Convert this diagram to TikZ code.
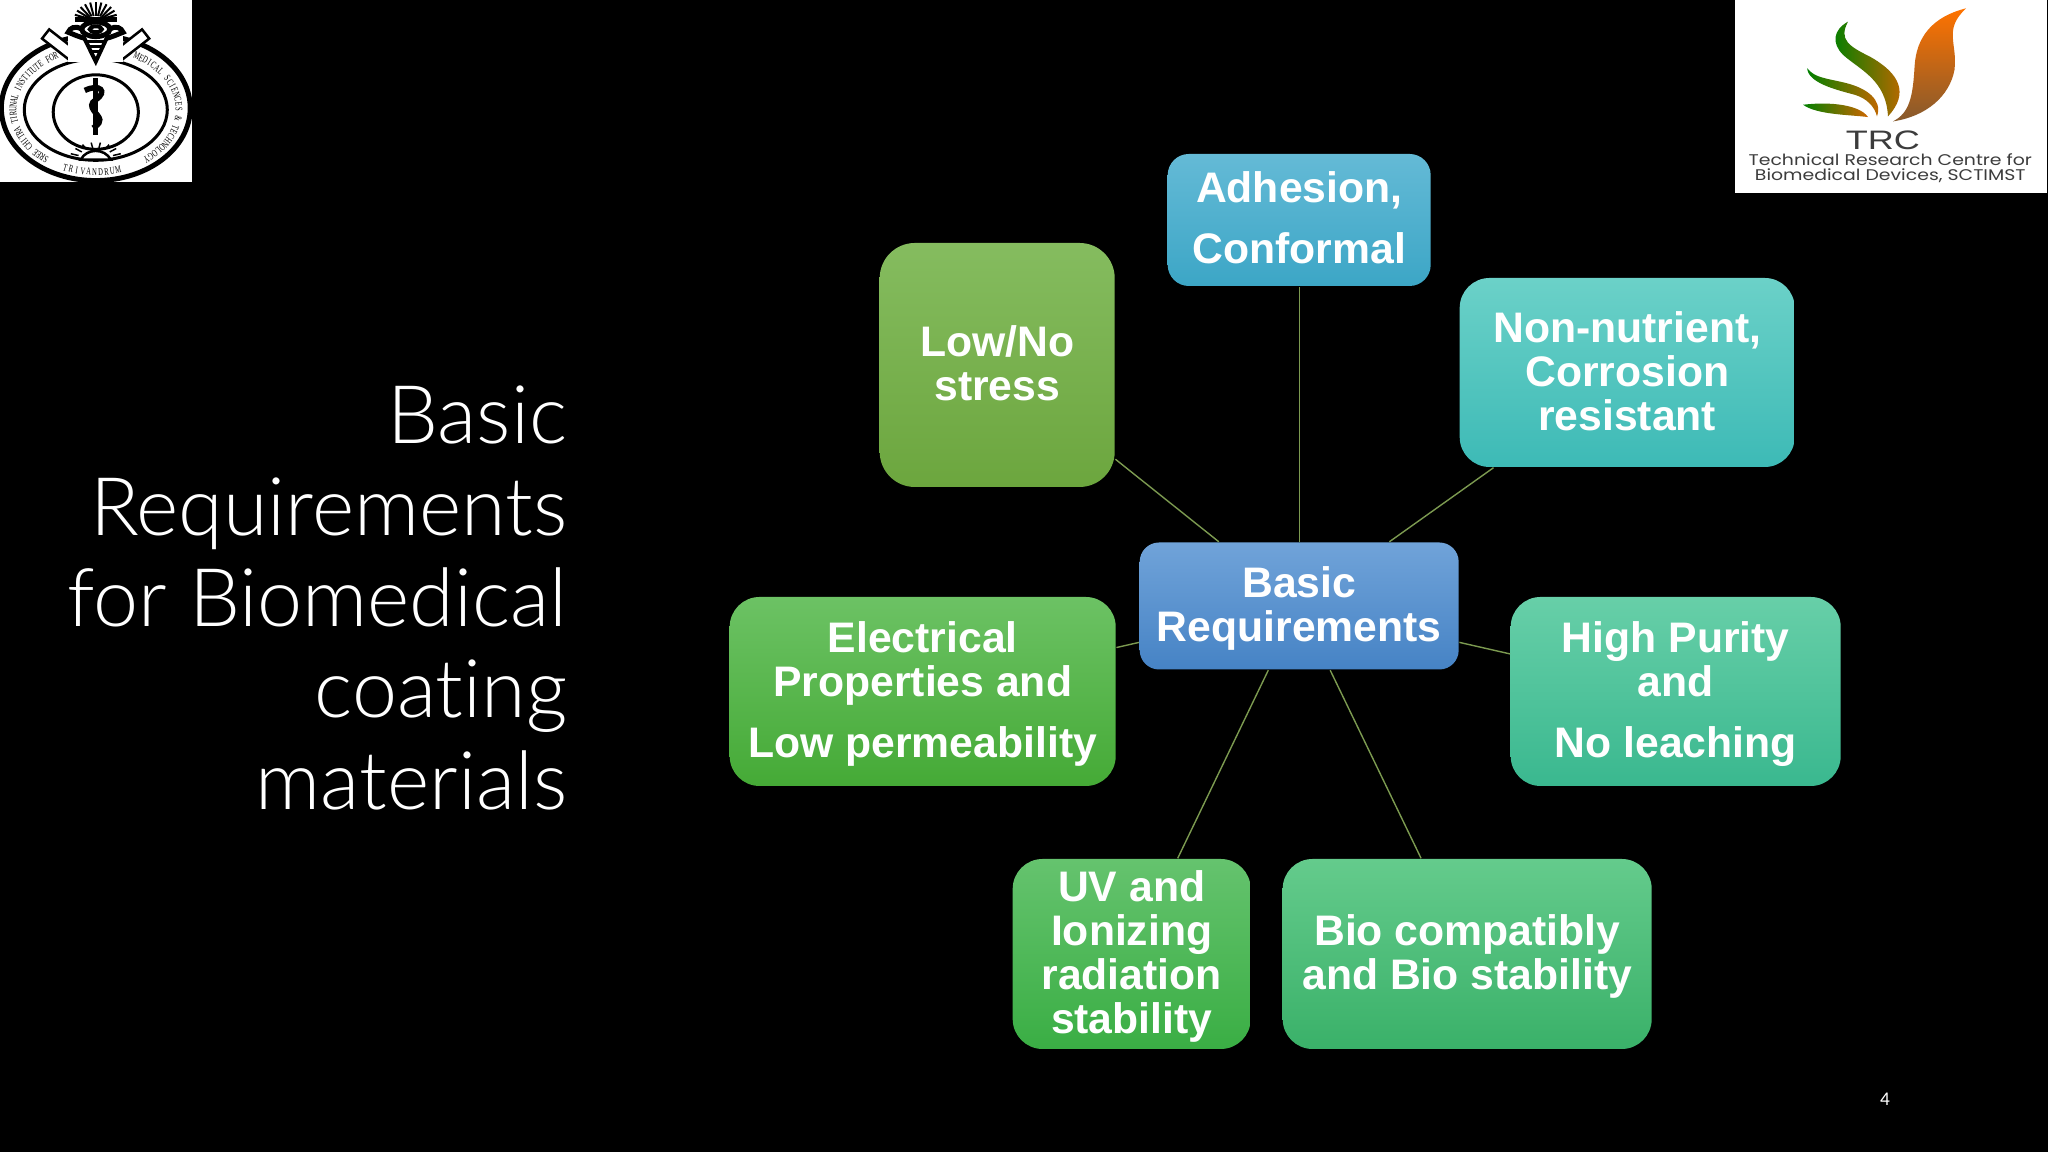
\documentclass[tikz,border=0pt]{standalone}
\usepackage{fontspec}
\setmainfont{Liberation Sans}
\newfontfamily\titlefont[Ligatures=CommonOff]{Lato Light}
\newfontfamily\pagefont{Carlito}
\newfontfamily\sealfont{Liberation Serif}
\newfontfamily\trcfont{Poppins}
\tikzset{
  req/.style={rounded corners=#1, inner sep=0pt, align=center, text=white,
    font=\fontsize{12.15}{12.6}\selectfont\bfseries},
  link/.style={draw=linkgreen, line width=0.14mm},
  sealline/.style={draw=black, fill=none},
  sealletter/.style={xscale=0.65, inner sep=0pt, text=black, font=\sealfont\fontsize{2.9}{3}\selectfont},
  sealstroke/.style={draw=black, line width=#1}
}
\definecolor{linkgreen}{HTML}{7C9A50}
\definecolor{trcgrey}{HTML}{3C3C3C}
\newcommand{\tallline}{\rule{0pt}{10.2pt}}
\newcommand{\deepline}[1]{\rule[-#1]{0pt}{0pt}}
\begin{document}
\begin{tikzpicture}[node distance=2.5cm]
  \path[use as bounding box, fill=black] (0,0) rectangle (20.48,11.52);

  \node[req=5.5pt, minimum width=3.19cm, minimum height=1.27cm, top color={rgb,255:red,112;green,163;blue,217}, middle color={rgb,255:red,88;green,150;blue,214}, bottom color={rgb,255:red,70;green,131;blue,197}] (Basic) at (12.992,5.46) {\tallline Basic\\Requirements};
  \node[req=6pt, top color={rgb,255:red,100;green,186;blue,214}, middle color={rgb,255:red,78;green,178;blue,208}, bottom color={rgb,255:red,60;green,166;blue,198}, minimum width=2.63cm, minimum height=1.32cm, above of=Basic, yshift=1.36cm] (Adhesion) {Adhesion,\\[4.8pt]Conformal\deepline{1.6pt}};
  \node[req=10pt, top color={rgb,255:red,133;green,188;blue,95}, middle color={rgb,255:red,118;green,178;blue,76}, bottom color={rgb,255:red,108;green,166;blue,62}, minimum width=2.35cm, minimum height=2.44cm, left of=Basic, xshift=-0.52cm, yshift=2.41cm] (LowNo) {Low/No\\stress\deepline{1.2pt}};
  \node[req=8.5pt, top color={rgb,255:red,107;green,209;blue,200}, middle color={rgb,255:red,77;green,206;blue,193}, bottom color={rgb,255:red,61;green,186;blue,182}, minimum width=3.35cm, minimum height=1.89cm, right of=Basic, xshift=0.78cm, yshift=2.335cm] (NonNutrient) {Non-nutrient,\\Corrosion\\resistant\deepline{0.8pt}};
  \node[req=8.5pt, top color={rgb,255:red,108;green,194;blue,100}, middle color={rgb,255:red,90;green,187;blue,80}, bottom color={rgb,255:red,69;green,170;blue,54}, minimum width=3.86cm, minimum height=1.89cm, left of=Basic, xshift=-1.265cm, yshift=-0.855cm] (Electrical) {\tallline Electrical\\Properties and\\[4.8pt]Low permeability};
  \node[req=8.5pt, top color={rgb,255:red,103;green,207;blue,168}, middle color={rgb,255:red,72;green,200;blue,158}, bottom color={rgb,255:red,58;green,184;blue,143}, minimum width=3.30cm, minimum height=1.89cm, right of=Basic, xshift=1.265cm, yshift=-0.855cm] (Purity) {\tallline High Purity\\and\\[4.8pt]No leaching};
  \node[req=8.5pt, top color={rgb,255:red,101;green,195;blue,110}, middle color={rgb,255:red,72;green,188;blue,85}, bottom color={rgb,255:red,58;green,174;blue,68}, minimum width=2.38cm, minimum height=1.90cm, below of=Basic, xshift=-1.675cm, yshift=-0.98cm] (UV) {\tallline UV and\\Ionizing\\radiation\\stability};
  \node[req=8.5pt, top color={rgb,255:red,100;green,203;blue,140}, middle color={rgb,255:red,69;green,197;blue,120}, bottom color={rgb,255:red,58;green,177;blue,105}, minimum width=3.69cm, minimum height=1.90cm, below of=Basic, xshift=1.68cm, yshift=-0.98cm] (Bio) {\tallline Bio compatibly\\and Bio stability};

  \draw[link] (Basic) -- (Adhesion);
  \draw[link] (Basic) -- (LowNo);
  \draw[link] (Basic) -- (NonNutrient);
  \draw[link] (Basic) -- (Electrical);
  \draw[link] (Basic) -- (Purity);
  \draw[link] (Basic) -- (UV);
  \draw[link] (Basic) -- (Bio);

  \node[anchor=east, align=right, text=white, inner sep=0pt, font=\titlefont\fontsize{23}{26}\selectfont] (Title) at (5.68,5.54) {Basic\\Requirements\\for Biomedical\\coating\\materials};
  \node[text=white, font=\pagefont\fontsize{5.5}{6}\selectfont, inner sep=0pt] (PageNo) at (18.85,0.53) {4};

  \begin{scope}[shift={(0,11.52)}, x=0.003333cm, y=-0.003333cm]
    \fill[white] (0,0) rectangle (578,548);
    \draw[sealline, line width=0.5mm] (288,325) ellipse [x radius=284, y radius=218];
    \draw[sealline, line width=0.3mm] (288,330) ellipse [x radius=215, y radius=152];
    \draw[sealline, line width=0.3mm] (288,337) ellipse [x radius=128, y radius=112];
    \fill[white, draw=black, line width=0.25mm, rotate around={-38:(175,135)}] (125,115) rectangle (225,150);
    \fill[white, draw=black, line width=0.25mm, rotate around={38:(400,135)}] (350,115) rectangle (450,150);
    \fill[white] (205,0) rectangle (371,185);
    \foreach \a in {15,30,...,165} {
      \draw[sealstroke=0.2mm] ({288+25*cos(\a)},{58-10*sin(\a)}) -- ({288+65*cos(\a)},{58-52*sin(\a)});
    }
    \draw[sealstroke=0.5mm] (225,58) -- (352,58);
    \draw[sealstroke=0.5mm, fill=white] (288,88) ellipse [x radius=42, y radius=22];
    \draw[sealstroke=0.4mm] (288,88) ellipse [x radius=18, y radius=9];
    \draw[sealstroke=0.5mm] (246,88) .. controls (225,75) and (210,85) .. (205,97) .. controls (225,105) and (240,112) .. (255,115);
    \draw[sealstroke=0.5mm] (330,88) .. controls (350,75) and (365,85) .. (370,97) .. controls (350,105) and (335,112) .. (320,115);
    \draw[sealstroke=0.4mm] (252,112) -- (288,185) -- (322,112);
    \foreach \s in {125,140,155} {
      \draw[sealstroke=0.3mm] ({288-(185-\s)*0.45},\s) -- ({288+(185-\s)*0.45},\s);
    }
    \draw[sealstroke=0.5mm] (288,235) -- (288,405);
    \draw[sealstroke=0.55mm] (255,272) .. controls (300,250) and (325,275) .. (288,300) .. controls (255,320) and (300,345) .. (300,360) .. controls (300,375) and (285,380) .. (280,385);
    \fill[white, draw=black, line width=0.25mm] (243,480) .. controls (260,445) and (315,445) .. (333,480) -- cycle;
    \foreach \a in {20,40,...,160} {
      \draw[sealstroke=0.15mm] ({288+55*cos(\a)},{480-36*sin(\a)}) -- ({288+80*cos(\a)},{480-52*sin(\a)});
    }
  \end{scope}

  \foreach \ltr [count=\i, remember=\ang as \prev (initially 236)] in {S,R,E,E,{},C,H,I,T,R,A,{},T,I,R,U,N,A,L,{},I,N,S,T,I,T,U,T,E,{},F,O,R} {
    \pgfmathsetmacro{\ang}{\prev-2.42/sqrt(pow(0.83*sin(\prev),2)+pow(0.62*cos(\prev),2))}
    \pgfmathsetmacro{\tilt}{atan2(0.62*cos(\ang),-0.83*sin(\ang))+180}
    \node[rotate=\tilt, sealletter] (sealA\i) at ({0.96+0.83*cos(\ang)},{10.42+0.62*sin(\ang)}) {\ltr};
  }
  \foreach \ltr [count=\i, remember=\ang as \prev (initially 64)] in {M,E,D,I,C,A,L,{},S,C,I,E,N,C,E,S,{},\&,{},T,E,C,H,N,O,L,O,G,Y} {
    \pgfmathsetmacro{\ang}{\prev-2.75/sqrt(pow(0.83*sin(\prev),2)+pow(0.62*cos(\prev),2))}
    \pgfmathsetmacro{\tilt}{atan2(0.62*cos(\ang),-0.83*sin(\ang))+180}
    \node[rotate=\tilt, sealletter] (sealB\i) at ({0.96+0.83*cos(\ang)},{10.42+0.62*sin(\ang)}) {\ltr};
  }
  \foreach \ltr [count=\i, remember=\ang as \prev (initially 244)] in {T,R,I,V,A,N,D,R,U,M} {
    \pgfmathsetmacro{\ang}{\prev+3.4/sqrt(pow(0.83*sin(\prev),2)+pow(0.62*cos(\prev),2))}
    \pgfmathsetmacro{\tilt}{atan2(0.62*cos(\ang),-0.83*sin(\ang))}
    \node[rotate=\tilt, sealletter] (sealC\i) at ({0.96+0.83*cos(\ang)},{10.42+0.62*sin(\ang)}) {\ltr};
  }

  \begin{scope}[shift={(17.2,11.52)}, x=0.003333cm, y=-0.003333cm]
    \fill[white] (46,0) rectangle (984,580);
    \shade[top color=orange!90!red, bottom color=brown!70!black] (740,25) .. controls (640,50) and (590,110) .. (585,200) .. controls (580,290) and (570,340) .. (520,365) .. controls (620,350) and (690,290) .. (705,210) .. controls (715,130) and (670,90) .. (740,25);
    \shade[left color=green!50!black, right color=orange!80!black] (385,65) .. controls (340,90) and (335,130) .. (370,165) .. controls (420,210) and (500,240) .. (505,350) .. controls (570,280) and (540,220) .. (450,170) .. controls (390,140) and (355,120) .. (385,65);
    \shade[left color=green!50!black, right color=orange!80!black] (262,205) .. controls (265,250) and (350,270) .. (405,285) .. controls (440,295) and (465,320) .. (472,350) .. controls (490,300) and (440,265) .. (380,250) .. controls (320,235) and (285,235) .. (262,205);
    \shade[left color=green!50!black, right color=orange!80!black] (250,315) .. controls (290,345) and (390,345) .. (445,352) .. controls (420,315) and (330,305) .. (250,315);
    \node[text=trcgrey, inner sep=0pt, xscale=1.35, font=\fontsize{7.6}{8}\selectfont] (TRC) at (490,421) {TRC};
    \node[text=trcgrey, inner sep=0pt, xscale=1.22, align=center, font=\trcfont\fontsize{4.4}{4.4}\selectfont] (TRCname) at (512,505) {Technical Research Centre for\\Biomedical Devices, SCTIMST};
  \end{scope}
\end{tikzpicture}
\end{document}
